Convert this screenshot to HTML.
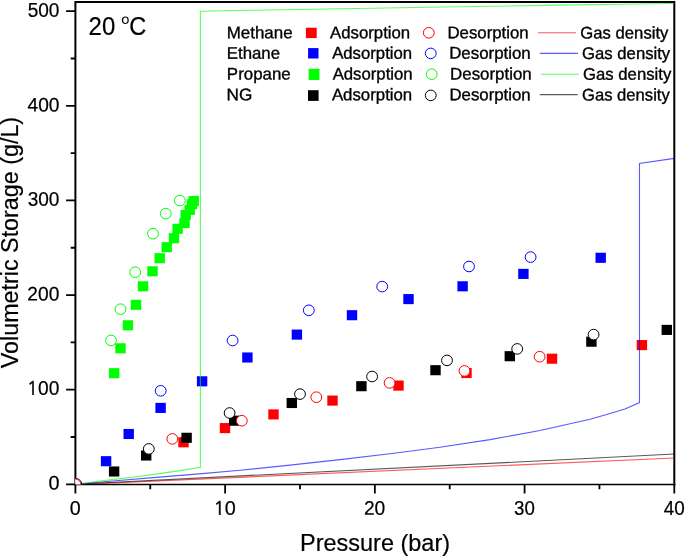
<!DOCTYPE html>
<html><head><meta charset="utf-8"><title>Volumetric Storage vs Pressure</title>
<style>html,body{margin:0;padding:0;background:#fff;}body{width:685px;height:557px;overflow:hidden;}svg{display:block;}</style>
</head><body>
<svg width="685" height="557" viewBox="0 0 685 557" font-family="'Liberation Sans', Arial, sans-serif" fill="#000">
<style>text.s{stroke:#000;stroke-width:0.35px;}text.l{stroke:#000;stroke-width:0.2px;}text .one{font-family:NanumGothic,'Liberation Sans',sans-serif;font-size:94%;stroke-width:0.5px;}</style>
<defs><clipPath id="pc"><rect x="75.40" y="2" width="598.90" height="482.30"/></clipPath></defs>
<rect width="685" height="557" fill="#fff"/>
<path d="M75.40,1.05V485.25M74.40,2.05H675.30M674.30,1.05V485.25" stroke="#000" stroke-width="2" fill="none"/>
<path d="M74.40,484.45H675.30" stroke="#000" stroke-width="1.65" fill="none"/>
<path d="M75.40,484.30V493.60M150.26,484.30V489.30M225.12,484.30V493.60M299.99,484.30V489.30M374.85,484.30V493.60M449.71,484.30V489.30M524.58,484.30V493.60M599.44,484.30V489.30M674.30,484.30V493.60M75.40,484.30H66.10M75.40,436.99H70.70M75.40,389.68H66.10M75.40,342.37H70.70M75.40,295.06H66.10M75.40,247.75H70.70M75.40,200.44H66.10M75.40,153.13H70.70M75.40,105.82H66.10M75.40,58.51H70.70M75.40,11.20H66.10" stroke="#000" stroke-width="1.8" fill="none"/>
<g clip-path="url(#pc)"><rect x="178.30" y="437.25" width="10.4" height="10.1" fill="#ff0000"/><rect x="219.80" y="423.05" width="10.4" height="10.1" fill="#ff0000"/><rect x="268.30" y="409.35" width="10.4" height="10.1" fill="#ff0000"/><rect x="327.30" y="395.55" width="10.4" height="10.1" fill="#ff0000"/><rect x="393.30" y="380.55" width="10.4" height="10.1" fill="#ff0000"/><rect x="461.30" y="367.95" width="10.4" height="10.1" fill="#ff0000"/><rect x="546.80" y="353.65" width="10.4" height="10.1" fill="#ff0000"/><rect x="636.70" y="340.05" width="10.4" height="10.1" fill="#ff0000"/><rect x="100.90" y="456.15" width="10.4" height="10.1" fill="#0000ff"/><rect x="123.50" y="428.95" width="10.4" height="10.1" fill="#0000ff"/><rect x="155.40" y="402.85" width="10.4" height="10.1" fill="#0000ff"/><rect x="196.90" y="376.25" width="10.4" height="10.1" fill="#0000ff"/><rect x="242.20" y="352.45" width="10.4" height="10.1" fill="#0000ff"/><rect x="291.70" y="329.55" width="10.4" height="10.1" fill="#0000ff"/><rect x="346.80" y="310.15" width="10.4" height="10.1" fill="#0000ff"/><rect x="403.30" y="294.05" width="10.4" height="10.1" fill="#0000ff"/><rect x="457.40" y="281.25" width="10.4" height="10.1" fill="#0000ff"/><rect x="518.20" y="268.85" width="10.4" height="10.1" fill="#0000ff"/><rect x="595.50" y="252.75" width="10.4" height="10.1" fill="#0000ff"/><rect x="109.00" y="368.15" width="10.4" height="10.1" fill="#00ff00"/><rect x="115.30" y="343.25" width="10.4" height="10.1" fill="#00ff00"/><rect x="122.70" y="320.25" width="10.4" height="10.1" fill="#00ff00"/><rect x="130.80" y="299.75" width="10.4" height="10.1" fill="#00ff00"/><rect x="137.80" y="281.25" width="10.4" height="10.1" fill="#00ff00"/><rect x="147.30" y="266.25" width="10.4" height="10.1" fill="#00ff00"/><rect x="154.50" y="253.15" width="10.4" height="10.1" fill="#00ff00"/><rect x="161.50" y="242.15" width="10.4" height="10.1" fill="#00ff00"/><rect x="168.80" y="233.15" width="10.4" height="10.1" fill="#00ff00"/><rect x="172.40" y="223.75" width="10.4" height="10.1" fill="#00ff00"/><rect x="179.30" y="218.05" width="10.4" height="10.1" fill="#00ff00"/><rect x="180.50" y="209.95" width="10.4" height="10.1" fill="#00ff00"/><rect x="184.50" y="204.85" width="10.4" height="10.1" fill="#00ff00"/><rect x="186.70" y="199.25" width="10.4" height="10.1" fill="#00ff00"/><rect x="188.50" y="195.95" width="10.4" height="10.1" fill="#00ff00"/><rect x="108.90" y="466.45" width="10.4" height="10.1" fill="#000000"/><rect x="141.00" y="450.45" width="10.4" height="10.1" fill="#000000"/><rect x="181.40" y="432.75" width="10.4" height="10.1" fill="#000000"/><rect x="229.00" y="415.65" width="10.4" height="10.1" fill="#000000"/><rect x="286.60" y="397.95" width="10.4" height="10.1" fill="#000000"/><rect x="356.20" y="381.15" width="10.4" height="10.1" fill="#000000"/><rect x="430.30" y="365.15" width="10.4" height="10.1" fill="#000000"/><rect x="504.60" y="351.15" width="10.4" height="10.1" fill="#000000"/><rect x="586.20" y="336.65" width="10.4" height="10.1" fill="#000000"/><rect x="661.60" y="324.85" width="10.4" height="10.1" fill="#000000"/><polyline points="75.40,484.60 674.30,458.00" fill="none" stroke="#ff0000" stroke-width="1.1" stroke-opacity="0.65" stroke-linejoin="miter"/><polyline points="75.40,484.25 674.30,454.05" fill="none" stroke="#000000" stroke-width="1.1" stroke-opacity="0.65" stroke-linejoin="miter"/><polyline points="75.40,484.30 116.00,480.70 156.00,477.35 205.00,473.40 240.00,470.30 290.00,465.15 340.00,459.60 390.00,453.70 440.00,447.20 490.00,439.60 540.00,430.50 590.00,419.20 605.00,415.00 625.00,409.10 639.50,402.60 639.50,163.40 674.30,158.40" fill="none" stroke="#0000ff" stroke-width="1.1" stroke-opacity="0.65" stroke-linejoin="miter"/><polyline points="75.40,484.30 96.00,481.50 116.00,479.10 136.00,476.70 156.00,474.10 180.00,470.60 200.40,467.30 200.40,11.20 255.00,10.25 400.00,7.70 460.00,6.75 560.00,5.15 620.00,4.25 674.30,3.50" fill="none" stroke="#00ff00" stroke-width="1.1" stroke-opacity="0.65" stroke-linejoin="miter"/><ellipse cx="76.20" cy="484.00" rx="5.41" ry="5.30" fill="#fff" stroke="#000000" stroke-width="1.0"/><ellipse cx="148.80" cy="448.90" rx="5.41" ry="5.30" fill="#fff" stroke="#000000" stroke-width="1.0"/><ellipse cx="229.60" cy="413.00" rx="5.41" ry="5.30" fill="#fff" stroke="#000000" stroke-width="1.0"/><ellipse cx="300.00" cy="394.10" rx="5.41" ry="5.30" fill="#fff" stroke="#000000" stroke-width="1.0"/><ellipse cx="372.10" cy="376.50" rx="5.41" ry="5.30" fill="#fff" stroke="#000000" stroke-width="1.0"/><ellipse cx="447.00" cy="360.40" rx="5.41" ry="5.30" fill="#fff" stroke="#000000" stroke-width="1.0"/><ellipse cx="517.20" cy="348.90" rx="5.41" ry="5.30" fill="#fff" stroke="#000000" stroke-width="1.0"/><ellipse cx="593.60" cy="334.60" rx="5.41" ry="5.30" fill="#fff" stroke="#000000" stroke-width="1.0"/><ellipse cx="75.40" cy="484.30" rx="5.41" ry="5.30" fill="#fff" stroke="#ff0000" stroke-width="1.0"/><ellipse cx="172.30" cy="438.90" rx="5.41" ry="5.30" fill="#fff" stroke="#ff0000" stroke-width="1.0"/><ellipse cx="241.80" cy="420.70" rx="5.41" ry="5.30" fill="#fff" stroke="#ff0000" stroke-width="1.0"/><ellipse cx="316.30" cy="397.20" rx="5.41" ry="5.30" fill="#fff" stroke="#ff0000" stroke-width="1.0"/><ellipse cx="389.60" cy="382.90" rx="5.41" ry="5.30" fill="#fff" stroke="#ff0000" stroke-width="1.0"/><ellipse cx="464.50" cy="370.90" rx="5.41" ry="5.30" fill="#fff" stroke="#ff0000" stroke-width="1.0"/><ellipse cx="539.60" cy="356.70" rx="5.41" ry="5.30" fill="#fff" stroke="#ff0000" stroke-width="1.0"/><ellipse cx="160.70" cy="390.80" rx="5.41" ry="5.30" fill="#fff" stroke="#0000ff" stroke-width="1.0"/><ellipse cx="232.60" cy="340.50" rx="5.41" ry="5.30" fill="#fff" stroke="#0000ff" stroke-width="1.0"/><ellipse cx="308.80" cy="310.30" rx="5.41" ry="5.30" fill="#fff" stroke="#0000ff" stroke-width="1.0"/><ellipse cx="382.20" cy="286.60" rx="5.41" ry="5.30" fill="#fff" stroke="#0000ff" stroke-width="1.0"/><ellipse cx="469.00" cy="266.50" rx="5.41" ry="5.30" fill="#fff" stroke="#0000ff" stroke-width="1.0"/><ellipse cx="530.60" cy="257.10" rx="5.41" ry="5.30" fill="#fff" stroke="#0000ff" stroke-width="1.0"/><ellipse cx="111.00" cy="340.40" rx="5.41" ry="5.30" fill="#fff" stroke="#00ff00" stroke-width="1.0"/><ellipse cx="120.50" cy="309.20" rx="5.41" ry="5.30" fill="#fff" stroke="#00ff00" stroke-width="1.0"/><ellipse cx="135.20" cy="272.20" rx="5.41" ry="5.30" fill="#fff" stroke="#00ff00" stroke-width="1.0"/><ellipse cx="153.00" cy="233.70" rx="5.41" ry="5.30" fill="#fff" stroke="#00ff00" stroke-width="1.0"/><ellipse cx="165.80" cy="213.60" rx="5.41" ry="5.30" fill="#fff" stroke="#00ff00" stroke-width="1.0"/><ellipse cx="179.80" cy="200.60" rx="5.41" ry="5.30" fill="#fff" stroke="#00ff00" stroke-width="1.0"/></g>
<text class="s" transform="matrix(1,0.0005,0,1,0,-0.1298)" x="226.71" y="38.34" font-size="16.85" textLength="65.87" lengthAdjust="spacingAndGlyphs">Methane</text>
<text class="s" transform="matrix(1,0.0005,0,1,0,-0.1850)" x="330.00" y="38.33" font-size="16.85" textLength="80.18" lengthAdjust="spacingAndGlyphs">Adsorption</text>
<text class="s" transform="matrix(1,0.0005,0,1,0,-0.2441)" x="447.48" y="38.22" font-size="16.85" textLength="81.24" lengthAdjust="spacingAndGlyphs">Desorption</text>
<text class="s" transform="matrix(1,0.0005,0,1,0,-0.3122)" x="580.37" y="38.56" font-size="16.85" textLength="88.04" lengthAdjust="spacingAndGlyphs">Gas density</text>
<text class="s" transform="matrix(1,0.0005,0,1,0,-0.1267)" x="226.75" y="58.65" font-size="16.85" textLength="53.26" lengthAdjust="spacingAndGlyphs">Ethane</text>
<text class="s" transform="matrix(1,0.0005,0,1,0,-0.1861)" x="332.15" y="58.65" font-size="16.85" textLength="80.04" lengthAdjust="spacingAndGlyphs">Adsorption</text>
<text class="s" transform="matrix(1,0.0005,0,1,0,-0.2450)" x="449.15" y="58.65" font-size="16.85" textLength="81.61" lengthAdjust="spacingAndGlyphs">Desorption</text>
<text class="s" transform="matrix(1,0.0005,0,1,0,-0.3131)" x="582.09" y="58.92" font-size="16.85" textLength="88.13" lengthAdjust="spacingAndGlyphs">Gas density</text>
<text class="s" transform="matrix(1,0.0005,0,1,0,-0.1294)" x="226.89" y="79.42" font-size="16.85" textLength="63.82" lengthAdjust="spacingAndGlyphs">Propane</text>
<text class="s" transform="matrix(1,0.0005,0,1,0,-0.1863)" x="332.63" y="79.44" font-size="16.85" textLength="80.06" lengthAdjust="spacingAndGlyphs">Adsorption</text>
<text class="s" transform="matrix(1,0.0005,0,1,0,-0.2455)" x="450.08" y="79.42" font-size="16.85" textLength="81.68" lengthAdjust="spacingAndGlyphs">Desorption</text>
<text class="s" transform="matrix(1,0.0005,0,1,0,-0.3136)" x="582.98" y="79.74" font-size="16.85" textLength="88.35" lengthAdjust="spacingAndGlyphs">Gas density</text>
<text class="s" transform="matrix(1,0.0005,0,1,0,-0.1197)" x="226.55" y="100.36" font-size="16.85" textLength="25.76" lengthAdjust="spacingAndGlyphs">NG</text>
<text class="s" transform="matrix(1,0.0005,0,1,0,-0.1860)" x="331.91" y="100.34" font-size="16.85" textLength="80.31" lengthAdjust="spacingAndGlyphs">Adsorption</text>
<text class="s" transform="matrix(1,0.0005,0,1,0,-0.2450)" x="449.45" y="100.37" font-size="16.85" textLength="81.25" lengthAdjust="spacingAndGlyphs">Desorption</text>
<text class="s" transform="matrix(1,0.0005,0,1,0,-0.3130)" x="582.04" y="100.58" font-size="16.85" textLength="87.75" lengthAdjust="spacingAndGlyphs">Gas density</text>
<text class="l" transform="matrix(1,0.0005,0,1,0,-0.0376)" x="69.80" y="514.88" font-size="19.62" textLength="10.94" lengthAdjust="spacingAndGlyphs">0</text>
<text class="l" transform="matrix(1,0.0005,0,1,0,-0.1124)" x="213.57" y="514.76" font-size="19.62" textLength="22.34" lengthAdjust="spacingAndGlyphs"><tspan class="one">1</tspan>0</text>
<text class="l" transform="matrix(1,0.0005,0,1,0,-0.1873)" x="363.90" y="514.71" font-size="19.62" textLength="21.40" lengthAdjust="spacingAndGlyphs">20</text>
<text class="l" transform="matrix(1,0.0005,0,1,0,-0.2622)" x="514.07" y="515.00" font-size="19.62" textLength="20.80" lengthAdjust="spacingAndGlyphs">30</text>
<text class="l" transform="matrix(1,0.0005,0,1,0,-0.3371)" x="663.66" y="515.34" font-size="19.62" textLength="20.99" lengthAdjust="spacingAndGlyphs">40</text>
<text class="l" transform="matrix(1,0.0005,0,1,0,-0.0270)" x="48.41" y="489.63" font-size="19.62" textLength="11.01" lengthAdjust="spacingAndGlyphs">0</text>
<text class="l" transform="matrix(1,0.0005,0,1,0,-0.0216)" x="27.06" y="394.82" font-size="19.62" textLength="32.27" lengthAdjust="spacingAndGlyphs"><tspan class="one">1</tspan>00</text>
<text class="l" transform="matrix(1,0.0005,0,1,0,-0.0217)" x="27.36" y="300.54" font-size="19.62" textLength="31.96" lengthAdjust="spacingAndGlyphs">200</text>
<text class="l" transform="matrix(1,0.0005,0,1,0,-0.0218)" x="27.66" y="205.89" font-size="19.62" textLength="31.78" lengthAdjust="spacingAndGlyphs">300</text>
<text class="l" transform="matrix(1,0.0005,0,1,0,-0.0218)" x="27.54" y="111.47" font-size="19.62" textLength="31.96" lengthAdjust="spacingAndGlyphs">400</text>
<text class="l" transform="matrix(1,0.0005,0,1,0,-0.0218)" x="27.67" y="16.84" font-size="19.62" textLength="31.81" lengthAdjust="spacingAndGlyphs">500</text>
<text class="l" transform="matrix(1,0.0005,0,1,0,-0.1875)" x="300.05" y="551.24" font-size="24.14" textLength="149.99" lengthAdjust="spacingAndGlyphs">Pressure (bar)</text>
<text class="l" transform="matrix(1,0.0005,0,1,0,-0.0510)" x="88.60" y="34.53" font-size="25.00" textLength="26.61" lengthAdjust="spacingAndGlyphs">20</text>
<text class="l" transform="matrix(1,0.0005,0,1,0,-0.0688)" x="129.16" y="34.70" font-size="25.00" textLength="17.00" lengthAdjust="spacingAndGlyphs">C</text>
<text class="n" transform="matrix(1,0.0005,0,1,0,-0.0627)" x="121.30" y="23.66" font-size="13.31" textLength="8.20" lengthAdjust="spacingAndGlyphs">o</text>
<text class="l" transform="translate(17.96,368.20) rotate(-90) matrix(1,0.0005,0,1,0,-0.0628)" x="0" y="0" font-size="23.88" textLength="251.33" lengthAdjust="spacingAndGlyphs">Volumetric Storage (g/L)</text>
<rect x="305.90" y="27.70" width="10.80" height="10.40" fill="#ff0000"/>
<ellipse cx="428.8" cy="32.8" rx="5.41" ry="5.30" fill="#fff" stroke="#ff0000" stroke-width="1.0"/>
<line x1="538.0" y1="32.8" x2="576.0" y2="32.8" stroke="#ff0000" stroke-width="1.1" stroke-opacity="0.65"/>
<rect x="308.10" y="48.10" width="10.40" height="10.40" fill="#0000ff"/>
<ellipse cx="430.75" cy="53.4" rx="5.41" ry="5.30" fill="#fff" stroke="#0000ff" stroke-width="1.0"/>
<line x1="539.8" y1="53.4" x2="577.9" y2="53.4" stroke="#0000ff" stroke-width="1.1" stroke-opacity="0.65"/>
<rect x="308.60" y="68.80" width="10.90" height="11.20" fill="#00ff00"/>
<ellipse cx="431.7" cy="74.2" rx="5.41" ry="5.30" fill="#fff" stroke="#00ff00" stroke-width="1.0"/>
<line x1="540.9" y1="74.2" x2="579.0" y2="74.2" stroke="#00ff00" stroke-width="1.1" stroke-opacity="0.65"/>
<rect x="308.00" y="90.20" width="10.60" height="10.70" fill="#000000"/>
<ellipse cx="430.75" cy="95.4" rx="5.41" ry="5.30" fill="#fff" stroke="#000000" stroke-width="1.0"/>
<line x1="539.8" y1="94.6" x2="577.7" y2="94.6" stroke="#000000" stroke-width="1.1" stroke-opacity="0.65"/>
</svg>
</body></html>
